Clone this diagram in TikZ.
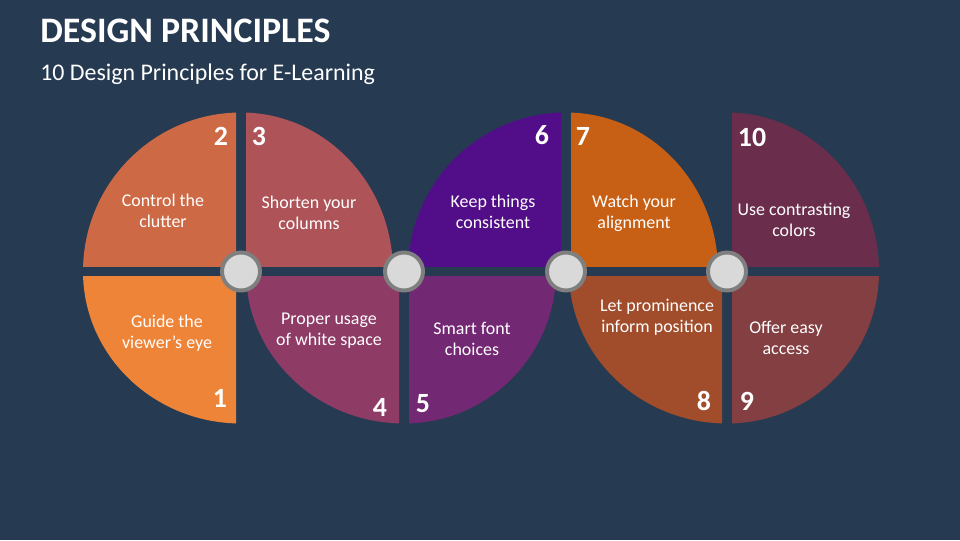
\documentclass[tikz,border=0pt]{standalone}
\usepackage{fontspec}
\setmainfont{Carlito}
\definecolor{dpBg}{HTML}{263A52}
\definecolor{dpHubFill}{HTML}{D9D9D9}
\definecolor{dpHubBorder}{HTML}{7F7F7F}
\definecolor{dpOne}{HTML}{EE8437}
\definecolor{dpTwo}{HTML}{CD6A45}
\definecolor{dpThree}{HTML}{AE5458}
\definecolor{dpFour}{HTML}{8E3B66}
\definecolor{dpFive}{HTML}{722872}
\definecolor{dpSix}{HTML}{520E88}
\definecolor{dpSeven}{HTML}{C75F15}
\definecolor{dpEight}{HTML}{A14D2B}
\definecolor{dpNine}{HTML}{833F42}
\definecolor{dpTen}{HTML}{6A2D4C}

% quarter piece: center x, center y, x side, y side, colour
\newcommand{\petal}[5]{%
  \begin{scope}
    \clip (#1+#3*5,#2+#4*5) rectangle (#1+#3*175,#2+#4*175);
    \fill[#5] (#1,#2) ellipse [x radius={#3>0 ? 152 : 158}, y radius={#4>0 ? 159 : 152}];
  \end{scope}}

\begin{document}
\begin{tikzpicture}[
  x=0.025cm, y=0.025cm,
  font=\fontsize{12.75}{14.7}\selectfont,
  title/.style={
    anchor=base west,
    text=white,
    inner sep=0pt,
    font=\fontsize{25.5}{28}\selectfont\bfseries
  },
  subtitle/.style={
    anchor=base west,
    text=white,
    inner sep=0pt,
    font=\fontsize{17}{20}\selectfont
  },
  label/.style={
    text=white,
    align=center,
    inner sep=0pt
  },
  num/.style={
    text=white,
    inner sep=0pt,
    font=\fontsize{19.8}{22}\selectfont\bfseries
  },
  hub/.style={
    fill=dpHubFill,
    draw=dpHubBorder,
    line width=2.8pt
  }
]

  \fill[dpBg] (0,0) rectangle (960,540);
  \useasboundingbox (0,0) rectangle (960,540);

  \node[title] (T) at (40,497) {DESIGN PRINCIPLES};
  \node[subtitle] (ST) at (40,459) {10 Design Principles for E-Learning};

  % quarters
  \petal{241}{268.5}{-1}{-1}{dpOne}
  \petal{241}{268.5}{-1}{1}{dpTwo}
  \petal{241}{268.5}{1}{1}{dpThree}
  \petal{404}{268.5}{-1}{-1}{dpFour}
  \petal{404}{268.5}{1}{-1}{dpFive}
  \petal{566}{268.5}{-1}{1}{dpSix}
  \petal{566}{268.5}{1}{1}{dpSeven}
  \petal{727}{268.5}{-1}{-1}{dpEight}
  \petal{727}{268.5}{1}{-1}{dpNine}
  \petal{727}{268.5}{1}{1}{dpTen}

  % hubs
  \draw[hub] (241,268.5) circle (19);
  \draw[hub] (404,268.5) circle (19);
  \draw[hub] (566,268.5) circle (19);
  \draw[hub] (727,268.5) circle (19);

  \node[label] (L1) at (167,207) {Guide the\\viewer’s eye};
  \node[label] (L2) at (163,329) {Control the\\clutter};
  \node[label] (L3) at (309,327) {Shorten your\\columns};
  \node[label] (L4) at (329,209) {Proper usage\\of white space};
  \node[label] (L5) at (472,201) {Smart font\\choices};
  \node[label] (L6) at (493,328) {Keep things\\consistent};
  \node[label] (L7) at (634,327) {Watch your\\alignment};
  \node[label] (L8) at (657,223) {Let prominence\\inform position};
  \node[label] (L9) at (786,202) {Offer easy\\access};
  \node[label] (L10) at (794,320) {Use contrasting\\colors};

  \node[num] (N1) at (220,142) {1};
  \node[num] (N2) at (221,404) {2};
  \node[num] (N3) at (259,404) {3};
  \node[num] (N4) at (380,133) {4};
  \node[num] (N5) at (423,136) {5};
  \node[num] (N6) at (542,405) {6};
  \node[num] (N7) at (583,404) {7};
  \node[num] (N8) at (704,139) {8};
  \node[num] (N9) at (747,139) {9};
  \node[num] (N10) at (752,403) {10};

\end{tikzpicture}
\end{document}
